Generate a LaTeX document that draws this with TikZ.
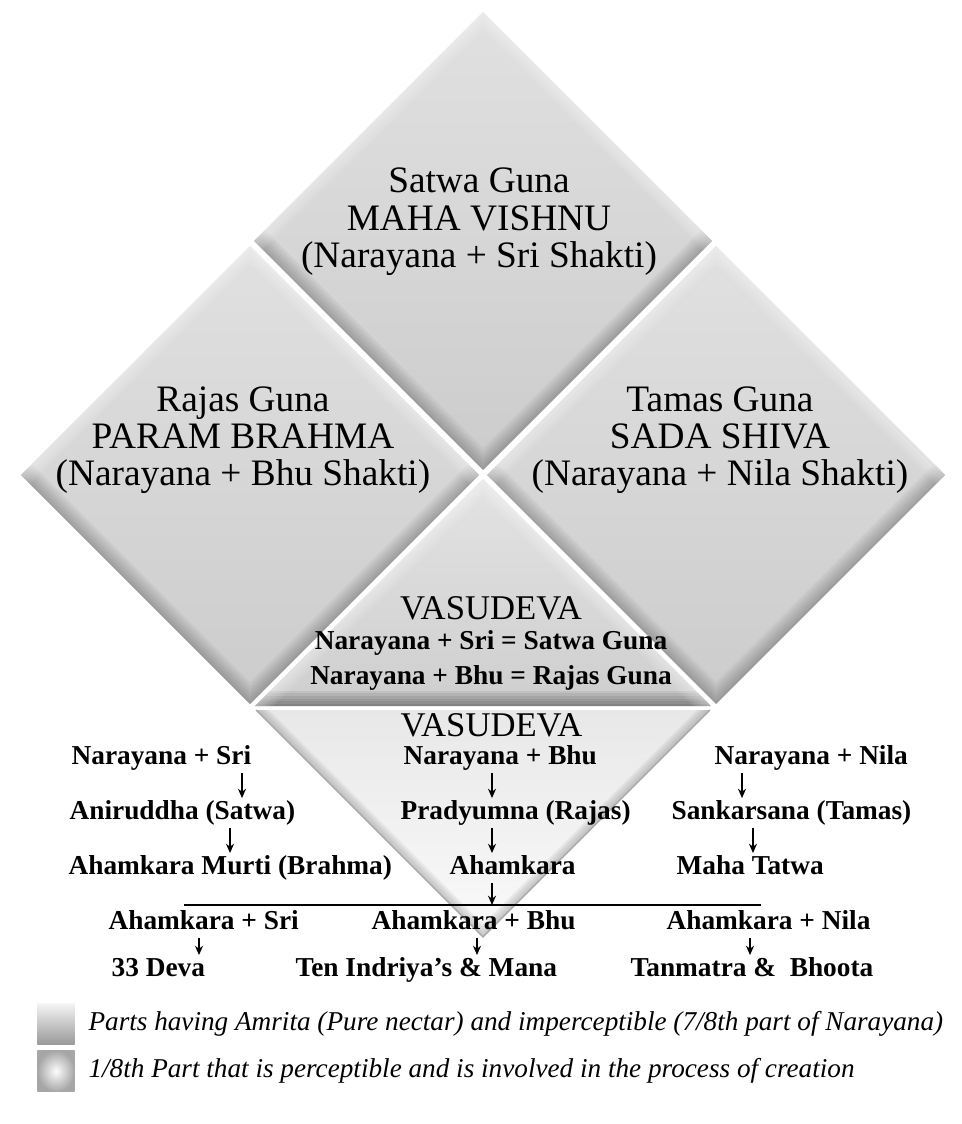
\documentclass[tikz,border=0pt]{standalone}
\usepackage{fontspec}
\setmainfont{Liberation Serif}
\usetikzlibrary{positioning, calc, arrows.meta}

\begin{document}
\begin{tikzpicture}[x=0.75pt, y=-0.75pt,
    guna/.style={align=center, font=\fontsize{28}{28}\selectfont},
    vtitle/.style={font=\fontsize{26}{26}\selectfont, inner sep=1pt},
    flow/.style={font=\bfseries\fontsize{20.5}{22}\selectfont, inner sep=1pt, text height=14pt, text depth=4pt},
    arr/.style={-{Stealth[length=7pt, width=6pt]}, line width=1.3pt, shorten <=1pt, shorten >=1pt},
    legend/.style={font=\itshape\fontsize{20.4}{22}\selectfont, inner sep=1pt},
    swatch/.style={minimum width=28pt, minimum height=31pt, inner sep=0pt}]
    \fill[white] (0,0) rectangle (962,1124);
    \useasboundingbox (0,0) rectangle (962,1124);

    % the three gunas of the big diamond
    \foreach \cx/\cy in {483/241, 250/475, 716/475}{
        \begin{scope}
            \clip (\cx,\cy-229) -- (\cx+229,\cy) -- (\cx,\cy+229) -- (\cx-229,\cy) -- cycle;
            \shade[top color=gray!24, bottom color=gray!40] (\cx-229,\cy-229) rectangle (\cx+229,\cy+229);
            \foreach \w in {3,7,...,23}
                \draw[line width=\w pt, black, opacity=.045] (\cx-229,\cy) -- (\cx,\cy+229) -- (\cx+229,\cy);
            \foreach \w in {3,7,...,19}
                \draw[line width=\w pt, white, opacity=.09] (\cx-229,\cy) -- (\cx,\cy-229) -- (\cx+229,\cy);
        \end{scope}
    }
    % vasudeva, upper part (7/8th)
    \begin{scope}
        \clip (483,479) -- (711,706) -- (255,706) -- cycle;
        \shade[top color=gray!22, bottom color=gray!38] (250,479) rectangle (716,706);
        \foreach \w in {3,7,...,23}
            \draw[line width=\w pt, black, opacity=.07] (255,706) -- (711,706);
        \foreach \w in {3,7,...,19}
            \draw[line width=\w pt, white, opacity=.09] (255,706) -- (483,479) -- (711,706);
    \end{scope}
    % vasudeva, lower part (1/8th)
    \begin{scope}
        \clip (256,710) -- (710,710) -- (483,937) -- cycle;
        \shade[top color=gray!18, bottom color=gray!4] (250,710) rectangle (716,937);
        \foreach \w in {2,5,...,14}
            \draw[line width=\w pt, gray, opacity=.1] (256,710) -- (483,937) -- (710,710);
    \end{scope}
    \draw[gray!70, line width=1pt] (256,710) -- (483,937) -- (710,710);

    \node[guna] (satwa) at (479,222) {Satwa Guna\\MAHA VISHNU\\(Narayana + Sri Shakti)};
    \node[guna] (rajas) at (243,440) {Rajas Guna\\PARAM BRAHMA\\(Narayana + Bhu Shakti)};
    \node[guna] (tamas) at (720,440) {Tamas Guna\\SADA SHIVA\\(Narayana + Nila Shakti)};

    \node[vtitle] (vasu) at (491,608) {VASUDEVA};
    \node[flow, below=6pt of vasu] (vsri) {Narayana + Sri = Satwa Guna};
    \node[flow, below=6pt of vsri] (vbhu) {Narayana + Bhu = Rajas Guna};

    % columns of the arrows
    \coordinate (al1) at (242,0);
    \coordinate (al2) at (230,0);
    \coordinate (am) at (492,0);
    \coordinate (ar1) at (742,0);
    \coordinate (ar2) at (753,0);
    \coordinate (ab1) at (199,0);
    \coordinate (ab2) at (477,0);
    \coordinate (ab3) at (750,0);
    \coordinate (hl) at (184,905);
    \coordinate (hr) at (761,905);

    \node[vtitle, anchor=west] (vasu2) at (399,725) {VASUDEVA};
    \node[flow, anchor=west] (nsri) at (70,758) {Narayana + Sri};
    \node[flow, anchor=west] (nbhu) at (402,758) {Narayana + Bhu};
    \node[flow, anchor=west] (nnila) at (713,758) {Narayana + Nila};
    \node[flow, anchor=west] (anir) at (68,813) {Aniruddha (Satwa)};
    \node[flow, anchor=west] (prad) at (399,813) {Pradyumna (Rajas)};
    \node[flow, anchor=west] (sank) at (670,813) {Sankarsana (Tamas)};
    \node[flow, anchor=west] (murti) at (67,868) {Ahamkara Murti (Brahma)};
    \node[flow, anchor=west] (aham) at (448,868) {Ahamkara};
    \node[flow, anchor=west] (maha) at (675,868) {Maha Tatwa};
    \node[flow, anchor=west] (asri) at (107,923) {Ahamkara + Sri};
    \node[flow, anchor=west] (abhu) at (370,923) {Ahamkara + Bhu};
    \node[flow, anchor=west] (anila) at (665,923) {Ahamkara + Nila};
    \node[flow, anchor=west] (deva) at (110,970) {33 Deva};
    \node[flow, anchor=west] (indr) at (294,970) {Ten Indriya's \& Mana};
    \node[flow, anchor=west] (tanm) at (629,970) {Tanmatra \& \ Bhoota};

    \draw[arr] (nsri.south -| al1) -- (anir.north -| al1);
    \draw[arr] (anir.south -| al2) -- (murti.north -| al2);
    \draw[arr] (nbhu.south -| am) -- (prad.north -| am);
    \draw[arr] (prad.south -| am) -- (aham.north -| am);
    \draw[arr] (nnila.south -| ar1) -- (sank.north -| ar1);
    \draw[arr] (sank.south -| ar2) -- (maha.north -| ar2);
    \draw[line width=1.3pt] (hl) -- (hr);
    \draw[arr, shorten >=0pt] (aham.south -| am) -- (am |- hl);
    \draw[arr] (asri.south -| ab1) -- (deva.north -| ab1);
    \draw[arr] (abhu.south -| ab2) -- (indr.north -| ab2);
    \draw[arr] (anila.south -| ab3) -- (tanm.north -| ab3);

    % legend
    \node[swatch, top color=gray!8, bottom color=gray!80] (sw1) at (56,1024) {};
    \node[swatch, inner color=gray!2, outer color=gray!70, below=4pt of sw1] (sw2) {};
    \node[legend, right=9pt of sw1] (leg1) {Parts having Amrita (Pure nectar) and imperceptible (7/8th part of Narayana)};
    \node[legend, right=9pt of sw2] (leg2) {1/8th Part that is perceptible and is involved in the process of creation};
\end{tikzpicture}
\end{document}
